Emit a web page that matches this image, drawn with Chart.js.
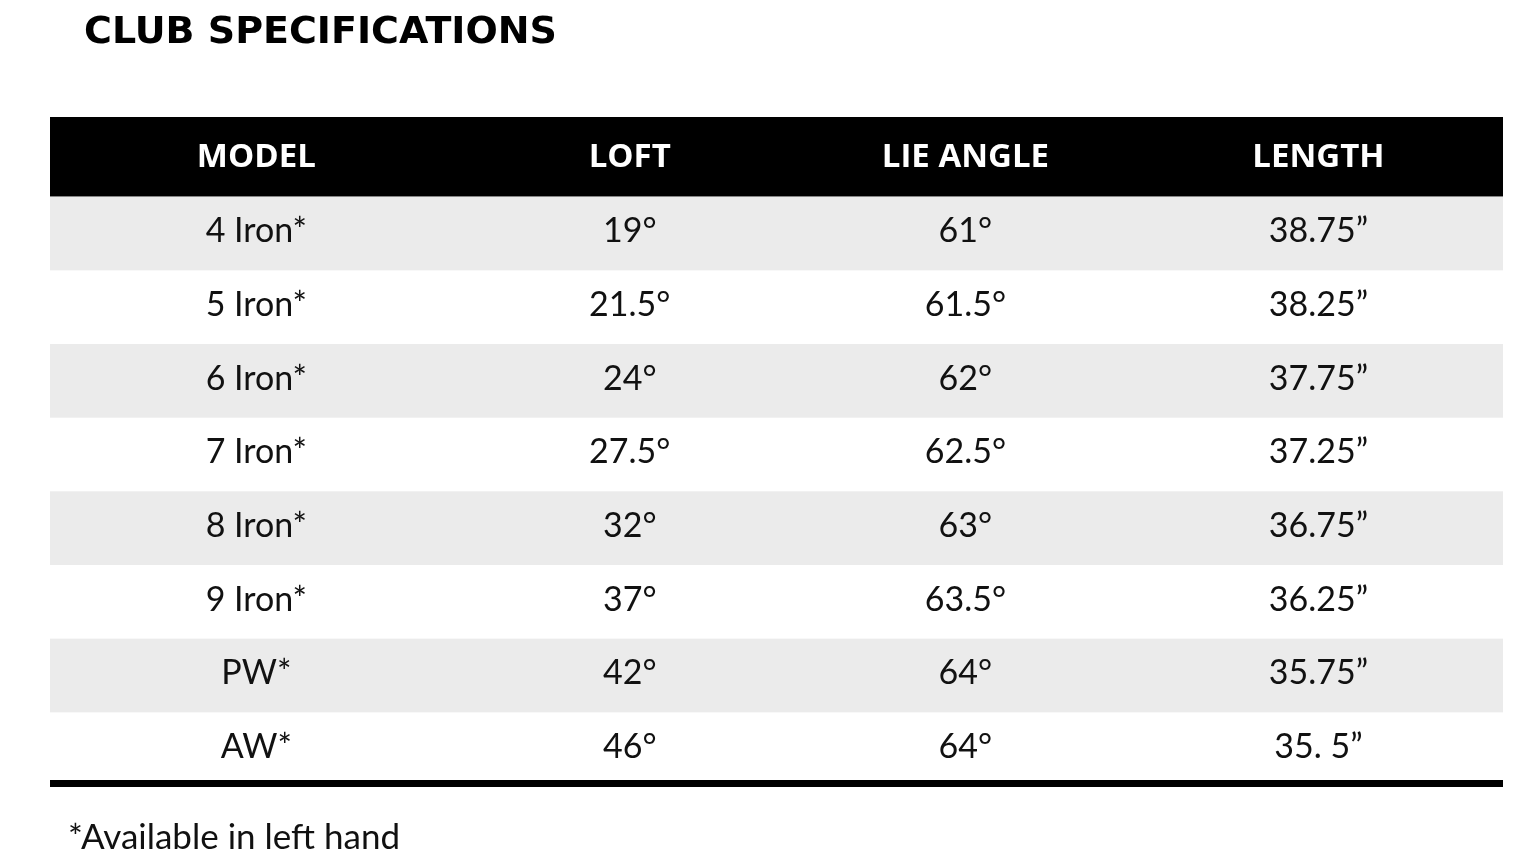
<!DOCTYPE html>
<html><head><meta charset="utf-8">
<script src="https://cdn.jsdelivr.net/npm/chart.js@4/dist/chart.umd.min.js"></script>
<style>html,body{margin:0;padding:0;background:#fff}canvas{display:block}</style>
</head><body>
<canvas id="c" width="1536" height="859"></canvas>
<script>
const title = "CLUB SPECIFICATIONS";
const footnote = "*Available in left hand";
const columns = ["MODEL", "LOFT", "LIE ANGLE", "LENGTH"];
const models = ["4 Iron*", "5 Iron*", "6 Iron*", "7 Iron*", "8 Iron*", "9 Iron*", "PW*", "AW*"];
const loft = ["19°", "21.5°", "24°", "27.5°", "32°", "37°", "42°", "46°"];
const lieAngle = ["61°", "61.5°", "62°", "62.5°", "63°", "63.5°", "64°", "64°"];
const length = ["38.75”", "38.25”", "37.75”", "37.25”", "36.75”", "36.25”", "35.75”", "35. 5”"];

const colPos = [0.142, 0.399, 0.630, 0.873];
const rowLabels = ["HEADER"].concat(models);
const cols = [models, loft, lieAngle, length];

const tablePlugin = {
  id: 'table',
  beforeDatasetsDraw(chart) {
    const ctx = chart.ctx, x = chart.scales.x, y = chart.scales.y, a = chart.chartArea;
    ctx.save();
    const band = (i) => {
      const c = y.getPixelForValue(i), h = (a.bottom - a.top) / rowLabels.length;
      return [c - h / 2, c + h / 2];
    };
    // header
    let [t, b] = band(0);
    ctx.fillStyle = '#000'; ctx.fillRect(a.left, a.top, a.right - a.left, b - a.top + 6);
    for (let r = 1; r < rowLabels.length; r++) {
      [t, b] = band(r);
      if (r % 2 === 1) { ctx.fillStyle = '#ebebeb'; ctx.fillRect(a.left, t + 6, a.right - a.left, b - t); }
    }
    ctx.fillStyle = '#000'; ctx.fillRect(a.left, a.bottom, a.right - a.left, 7);
    ctx.textAlign = 'center'; ctx.textBaseline = 'middle';
    ctx.font = 'bold 33px "Open Sans"'; ctx.fillStyle = '#fff';
    columns.forEach((c, j) => ctx.fillText(c, x.getPixelForValue(colPos[j]), y.getPixelForValue(0) + 4));
    ctx.font = '34px Lato'; ctx.fillStyle = '#111';
    for (let r = 0; r < models.length; r++) {
      cols.forEach((col, j) => ctx.fillText(col[r], x.getPixelForValue(colPos[j]), y.getPixelForValue(r + 1) + 4));
    }
    ctx.textAlign = 'left';
    ctx.font = 'bold 38px "DejaVu Sans"'; ctx.fillStyle = '#000';
    ctx.fillText(title, 84, 33);
    ctx.font = '35px Lato'; ctx.fillStyle = '#111';
    ctx.fillText(footnote, 68, 838);
    ctx.restore();
  }
};

new Chart(document.getElementById('c'), {
  type: 'bar',
  data: { labels: rowLabels, datasets: [{ data: [], backgroundColor: 'transparent' }] },
  options: {
    responsive: false, animation: false, indexAxis: 'y',
    layout: { padding: { left: 50, right: 33, top: 117, bottom: 79 } },
    plugins: { legend: { display: false }, tooltip: { enabled: false } },
    scales: {
      x: { type: 'linear', min: 0, max: 1, display: false },
      y: { type: 'category', display: false, offset: true }
    }
  },
  plugins: [tablePlugin]
});
</script>
</body></html>
